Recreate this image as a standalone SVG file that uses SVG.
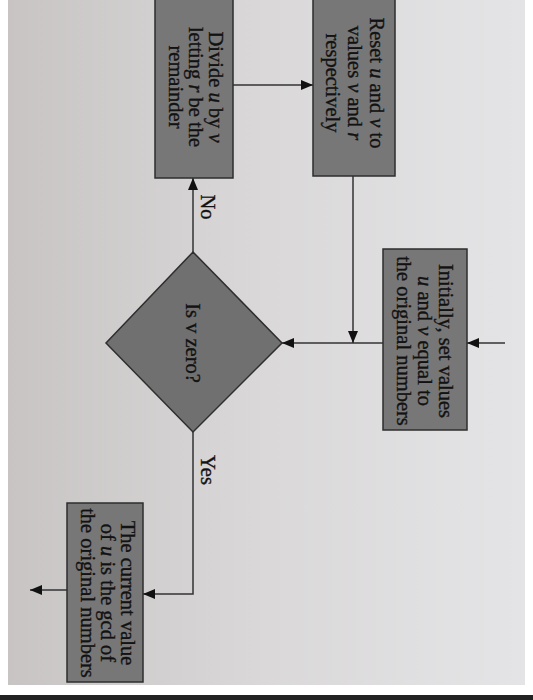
<svg xmlns="http://www.w3.org/2000/svg" width="533" height="700" viewBox="0 0 533 700">
<style>
.box{fill:#787777;stroke:#2e2e2e;stroke-width:1.5}
.dia{fill:#717070;stroke:#2e2e2e;stroke-width:1.5}
.ln{fill:none;stroke:#333;stroke-width:1.5}
text{font-family:"Liberation Serif","Times New Roman",serif;font-size:20.5px;fill:#121212;stroke:#121212;stroke-width:0.35;text-anchor:middle}
.i{font-style:italic}
</style>
<defs>
<linearGradient id="bg" x1="0" y1="0" x2="1" y2="0">
<stop offset="0" stop-color="#c8c4c4"/>
<stop offset="0.5" stop-color="#dad8d9"/>
<stop offset="1" stop-color="#e4e4e6"/>
</linearGradient>
<marker id="ah" viewBox="0 0 12 10" refX="12" refY="5" markerWidth="12" markerHeight="10" markerUnits="userSpaceOnUse" orient="auto">
<path d="M0,0 L12,5 L0,10 Z" fill="#111"/>
</marker>
</defs>
<rect x="0" y="0" width="533" height="700" fill="#ffffff"/>
<rect x="8" y="0" width="517" height="685" fill="url(#bg)"/>
<rect x="0" y="695" width="533" height="5" fill="#222"/>

<g id="connectors">
<line class="ln" x1="505" y1="343" x2="467" y2="343" marker-end="url(#ah)"/>
<line class="ln" x1="383" y1="343" x2="282" y2="343" marker-end="url(#ah)"/>
<line class="ln" x1="353" y1="176" x2="353" y2="343" marker-end="url(#ah)"/>
<line class="ln" x1="193" y1="252" x2="193" y2="178" marker-end="url(#ah)"/>
<line class="ln" x1="233" y1="85" x2="313" y2="85" marker-end="url(#ah)"/>
<polyline class="ln" points="193,432 193,594 143,594" marker-end="url(#ah)"/>
<line class="ln" x1="67" y1="590" x2="30" y2="590" marker-end="url(#ah)"/>
<text transform="translate(208,207) rotate(90)" y="7">No</text>
<text transform="translate(208,470) rotate(90)" y="7">Yes</text>
</g>

<g id="initially">
<rect class="box" x="383" y="249" width="84" height="181"/>
<text transform="translate(425,341) rotate(90)"><tspan x="0" y="-14">Initially, set values</tspan><tspan x="0" y="7"><tspan class="i">u</tspan> and <tspan class="i">v</tspan> equal to</tspan><tspan x="0" y="28">the original numbers</tspan></text>
</g>

<g id="reset">
<rect class="box" x="313" y="-5" width="82" height="181"/>
<text transform="translate(355,83) rotate(90)"><tspan x="0" y="-15">Reset <tspan class="i">u</tspan> and <tspan class="i">v</tspan> to</tspan><tspan x="0" y="7">values <tspan class="i">v</tspan> and <tspan class="i">r</tspan></tspan><tspan x="0" y="29">respectively</tspan></text>
</g>

<g id="divide">
<rect class="box" x="155" y="-5" width="78" height="183"/>
<text transform="translate(196,87) rotate(90)"><tspan x="0" y="-13">Divide <tspan class="i">u</tspan> by <tspan class="i">v</tspan></tspan><tspan x="0" y="7">letting <tspan class="i">r</tspan> be the</tspan><tspan x="0" y="27">remainder</tspan></text>
</g>

<g id="decision">
<polygon class="dia" points="193,252 282,343 193,432 106,343"/>
<text transform="translate(193,343) rotate(90)" y="7">Is v zero?</text>
</g>

<g id="result">
<rect class="box" x="67" y="503" width="76" height="179"/>
<text transform="translate(108,593) rotate(90)"><tspan x="0" y="-13">The current value</tspan><tspan x="0" y="7">of <tspan class="i">u</tspan> is the gcd of</tspan><tspan x="0" y="27">the original numbers</tspan></text>
</g>
</svg>
